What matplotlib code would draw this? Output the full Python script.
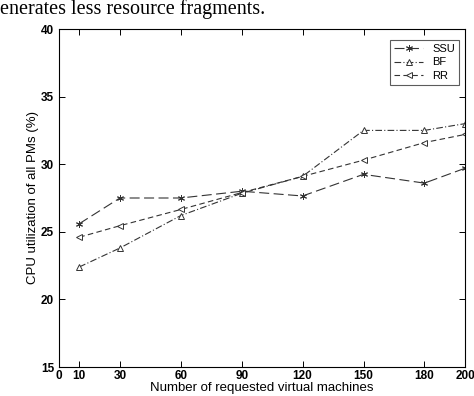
import matplotlib
matplotlib.use("Agg")
import matplotlib.pyplot as plt

vms = [10, 30, 60, 90, 120, 150, 180, 200]
ssu = [25.6, 27.5, 27.5, 28.0, 27.65, 29.25, 28.6, 29.7]
bf = [22.4, 23.8, 26.2, 27.85, 29.1, 32.5, 32.5, 33.0]
rr = [24.6, 25.45, 26.65, 27.9, 29.1, 30.3, 31.6, 32.2]
xticks = [0, 10, 30, 60, 90, 120, 150, 180, 200]
yticks = [15, 20, 25, 30, 35, 40]

plt.rcParams['font.family'] = ['Liberation Sans', 'DejaVu Sans']

fig = plt.figure(figsize=(4.74, 3.96), dpi=100)
ax = fig.add_axes([59/474, 1 - 367/396, (465-59)/474, (367-29)/396])

lw = 0.8
ax.plot(vms, ssu, color='#333333', lw=lw, linestyle=(0, (9, 4)), marker=(6, 2, 0),
        markersize=5, markeredgewidth=0.7, label='SSU')
ax.plot(vms, bf, color='#333333', lw=lw, linestyle=(0, (6, 2, 1, 2)), marker='^',
        markersize=5, markerfacecolor='white', markeredgewidth=0.7, label='BF')
ax.plot(vms, rr, color='#333333', lw=lw, linestyle=(0, (5, 3)), marker='<',
        markersize=5, markerfacecolor='white', markeredgewidth=0.7, label='RR')

ax.set_xlim(0, 200)
ax.set_ylim(15, 40)
ax.set_xticks(xticks)
ax.set_yticks(yticks)
ax.tick_params(direction='in', top=True, right=True, labelsize=8.5, length=4, width=0.7)
ax.tick_params(axis='x', pad=2.5)
for lab in ax.get_xticklabels() + ax.get_yticklabels():
    lab.set_fontweight('bold')
for s in ax.spines.values():
    s.set_linewidth(0.8)

ax.set_xlabel('Number of requested virtual machines', fontsize=9.5, labelpad=0)
ax.set_ylabel('CPU utilization of all PMs (%)', fontsize=9.5, labelpad=1)

leg = ax.legend(loc='upper right', fontsize=8, frameon=True, fancybox=False,
                edgecolor='#333333', handlelength=2.6, borderpad=0.4,
                labelspacing=0.3, bbox_to_anchor=(1.0, 0.985))
leg.get_frame().set_linewidth(0.8)

fig.text(0.0, 1 - 9/396, 'enerates less resource fragments.', fontsize=14.5,
         family=['Liberation Serif', 'DejaVu Serif'], va='center', ha='left')

fig.savefig('out.png', dpi=100)
